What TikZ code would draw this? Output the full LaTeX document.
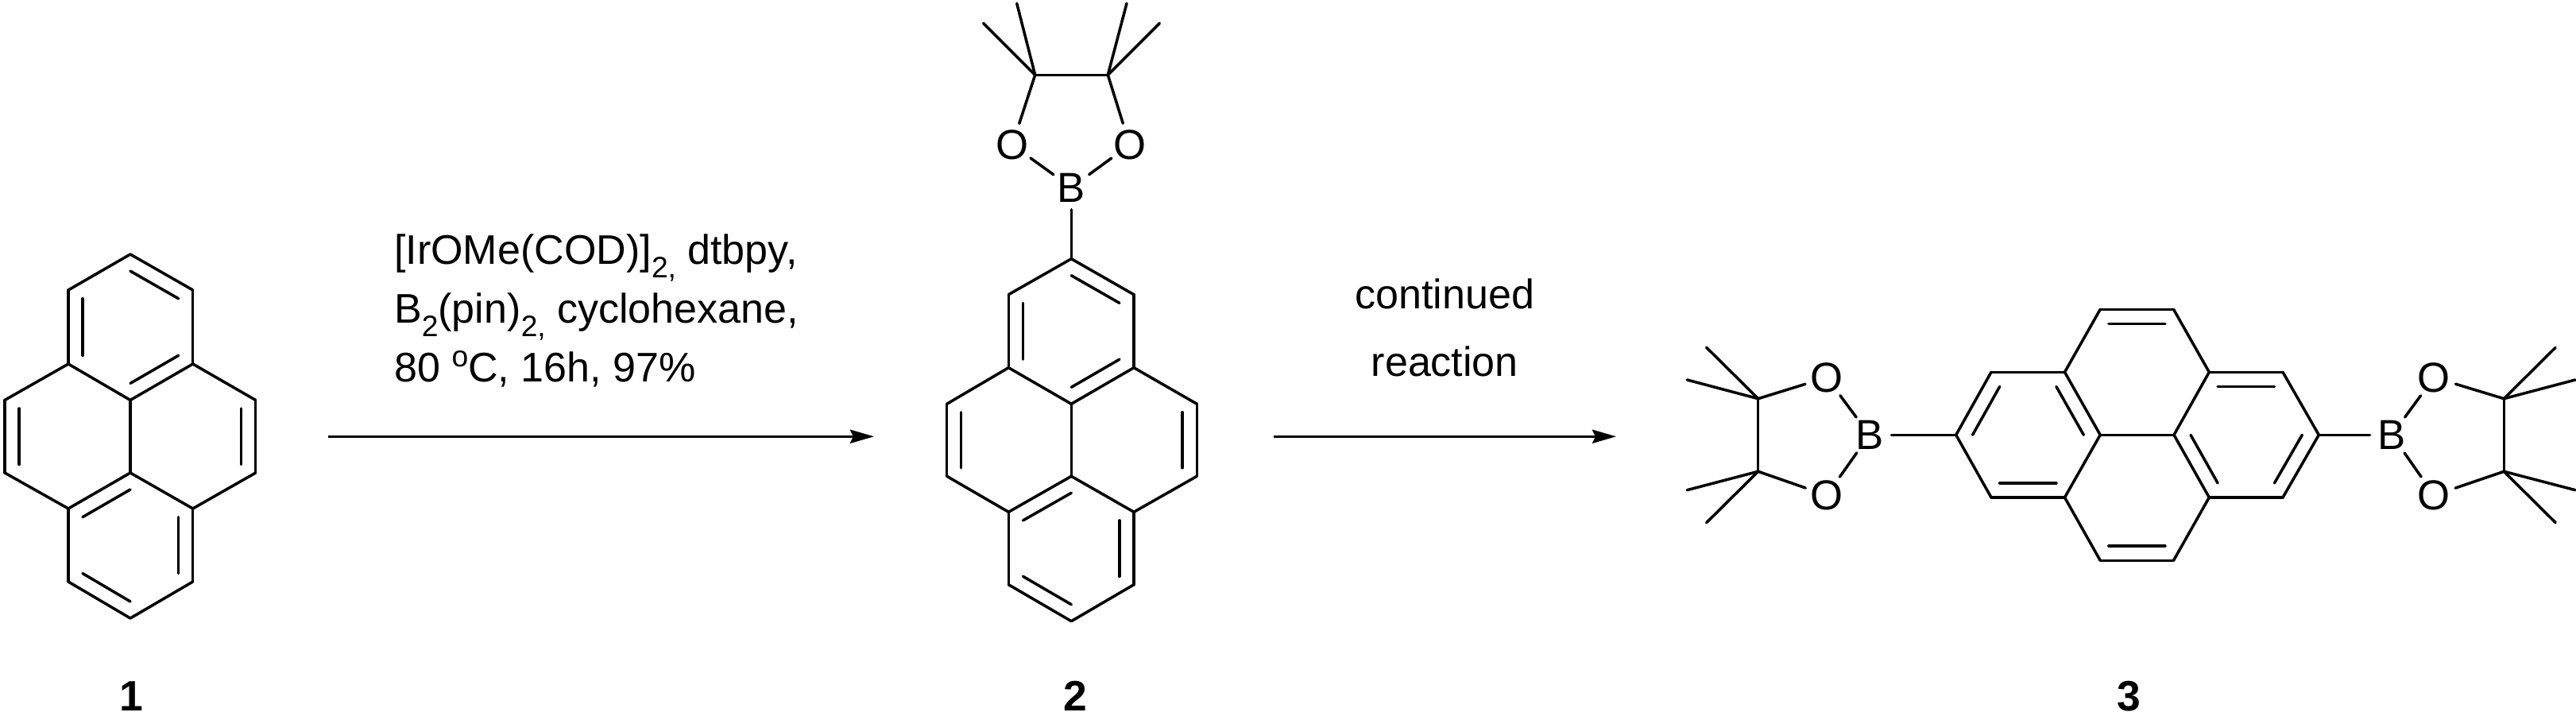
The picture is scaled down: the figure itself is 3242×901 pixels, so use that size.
\documentclass[tikz,border=0pt]{standalone}
\usepackage{fontspec}
\setmainfont{Liberation Sans}
\usetikzlibrary{calc,arrows.meta}

\tikzset{
  bond/.style={line width=1pt, line cap=round},
  atom/.style={circle, inner sep=0pt, minimum size=0.54cm, font=\fontsize{15}{18}\selectfont},
  cmpd/.style={inner sep=0pt, font=\fontsize{15.2}{18}\selectfont\bfseries},
  cond/.style={inner sep=0pt, align=left, anchor=base west, font=\fontsize{14.8}{21}\selectfont},
  rxn/.style={line width=1pt, -{Stealth[length=0.3cm, width=0.17cm, inset=0.04cm]}}
}

% lowered and raised small text in the conditions
\newcommand{\lowr}[1]{\raisebox{-4.7pt}{\fontsize{10.6}{11}\selectfont #1}}
\newcommand{\uppr}[1]{\raisebox{5.4pt}{\fontsize{10.6}{11}\selectfont #1}}

% inner line of a double bond, pulled towards the ring centre
\newcommand{\dbl}[3]{\draw[bond] ($(#1)!0.23!(#3)$) -- ($(#2)!0.23!(#3)$);}

% pyrene skeleton between the coordinates #1a ... #1r
\newcommand{\pyrene}[1]{
  \foreach \u/\v in {a/b,a/c,c/d,b/e,d/f,e/f,f/g,d/h,h/i,i/m,e/j,j/k,k/n,g/m,g/n,m/p,n/q,p/r,q/r}
    \draw[bond] (#1\u) -- (#1\v);
  \coordinate (#1top) at ($(#1a)!0.5!(#1f)$);
  \coordinate (#1lft) at ($(#1h)!0.5!(#1g)$);
  \coordinate (#1rgt) at ($(#1j)!0.5!(#1g)$);
  \coordinate (#1far) at ($(#1g)!0.5!(#1r)$);
  \dbl{#1a}{#1b}{#1top}
  \dbl{#1c}{#1d}{#1top}
  \dbl{#1e}{#1f}{#1top}
  \dbl{#1h}{#1i}{#1lft}
  \dbl{#1j}{#1k}{#1rgt}
  \dbl{#1g}{#1m}{#1far}
  \dbl{#1n}{#1q}{#1far}
  \dbl{#1p}{#1r}{#1far}
}

% boronate ring between the nodes #1B, #1O, #1P and the coordinates #1C, #1D, #1s .. #1v
\newcommand{\pinacol}[1]{
  \foreach \u/\v in {B/O,B/P,O/C,P/D,C/D,C/s,C/t,D/u,D/v}
    \draw[bond] (#1\u) -- (#1\v);
}

\begin{document}
\begin{tikzpicture}[x=0.01cm, y=-0.01cm]
\useasboundingbox (0,0) rectangle (3242,901);

% pyrene 1
\foreach \n/\x/\y in {a/164/320, b/242.7/365, c/86/365, d/86/458, e/242.7/458, f/164/503.5,
  g/164/595, h/6/503.5, i/6/595, j/321.7/503.5, k/321.7/595, m/86/640, n/242.7/640,
  p/86/732, q/242.7/732, r/164/778}
  \coordinate (P\n) at (\x,\y);
\pyrene{P}
\node[cmpd] (lab1) at (165,876) {1};

% boronate 2
\foreach \n/\x/\y in {a/1348.3/325.7, b/1427/370.7, c/1269.3/370.7, d/1269.3/462.7, e/1427/462.7,
  f/1348.3/508.3, g/1348.3/599.3, h/1191.7/508.3, i/1191.7/599.3, j/1506.3/508.3, k/1506.3/599.3,
  m/1269.3/644.3, n/1427/644.3, p/1269.3/735.7, q/1427/735.7, r/1348.3/781.7}
  \coordinate (Q\n) at (\x,\y);
\pyrene{Q}
\node[atom] (QB) at (1348.3,236) {B};
\node[atom] (QO) at (1274,182.3) {O};
\node[atom] (QP) at (1421.7,182.3) {O};
\foreach \n/\x/\y in {C/1302.7/94.3, D/1394.3/94.3, s/1237.7/29.3, t/1279.7/4.3, u/1459.3/29.3, v/1418/4.3}
  \coordinate (Q\n) at (\x,\y);
\pinacol{Q}
\draw[bond] (QB) -- (Qa);
\node[cmpd] (lab2) at (1353,876) {2};

% bis-boronate 3
\foreach \n/\x/\y in {a/2461.7/547.3, b/2506/468.3, c/2506/626, d/2598.5/626, e/2598.5/468.3,
  f/2643.2/547.3, g/2736/547.3, h/2643.2/705.3, i/2735.5/705.3, j/2643.2/389.3, k/2735.5/389.3,
  m/2780.3/626, n/2780.3/468.3, p/2873/626, q/2873/468.3, r/2918.3/547.3}
  \coordinate (R\n) at (\x,\y);
\pyrene{R}
% left end
\node[atom] (LB) at (2352.7,547.3) {B};
\node[atom] (LO) at (2299,475) {O};
\node[atom] (LP) at (2299,623.3) {O};
\foreach \n/\x/\y in {C/2212.7/501.7, D/2212.7/593.3, s/2147.7/437.3, t/2123.3/478, u/2123.3/616.7, v/2147.7/657.7}
  \coordinate (L\n) at (\x,\y);
\pinacol{L}
\draw[bond] (LB) -- (Ra);
% right end
\node[atom] (TB) at (3010.3,547.3) {B};
\node[atom] (TO) at (3063.3,475) {O};
\node[atom] (TP) at (3063.3,623.3) {O};
\foreach \n/\x/\y in {C/3151.3/501.7, D/3151.3/593.3, s/3216.2/437.3, t/3241/478, u/3241/616.7, v/3216.2/657.7}
  \coordinate (T\n) at (\x,\y);
\pinacol{T}
\draw[bond] (TB) -- (Rr);
\node[cmpd] (lab3) at (2679,876) {3};

% first step
\coordinate (one) at (413,549.3);
\coordinate (two) at (1100,549.3);
\draw[rxn] (one) -- (two);
\node[cond, anchor=south west] (condA) at (495.5,488) {[IrOMe(COD)]\lowr{2,} dtbpy,\\
  B\lowr{2}(pin)\lowr{2,} cyclohexane,\\
  80 \uppr{o}C, 16h, 97\%};

% second step
\coordinate (three) at (1603.3,549.3);
\coordinate (four) at (2034,549.3);
\draw[rxn] (three) -- (four);
\node[cond, anchor=base] (condB) at (1818.3,388.3) {continued};
\node[cond, anchor=base] (condC) at (1818.3,473.3) {reaction};
\end{tikzpicture}
\end{document}
